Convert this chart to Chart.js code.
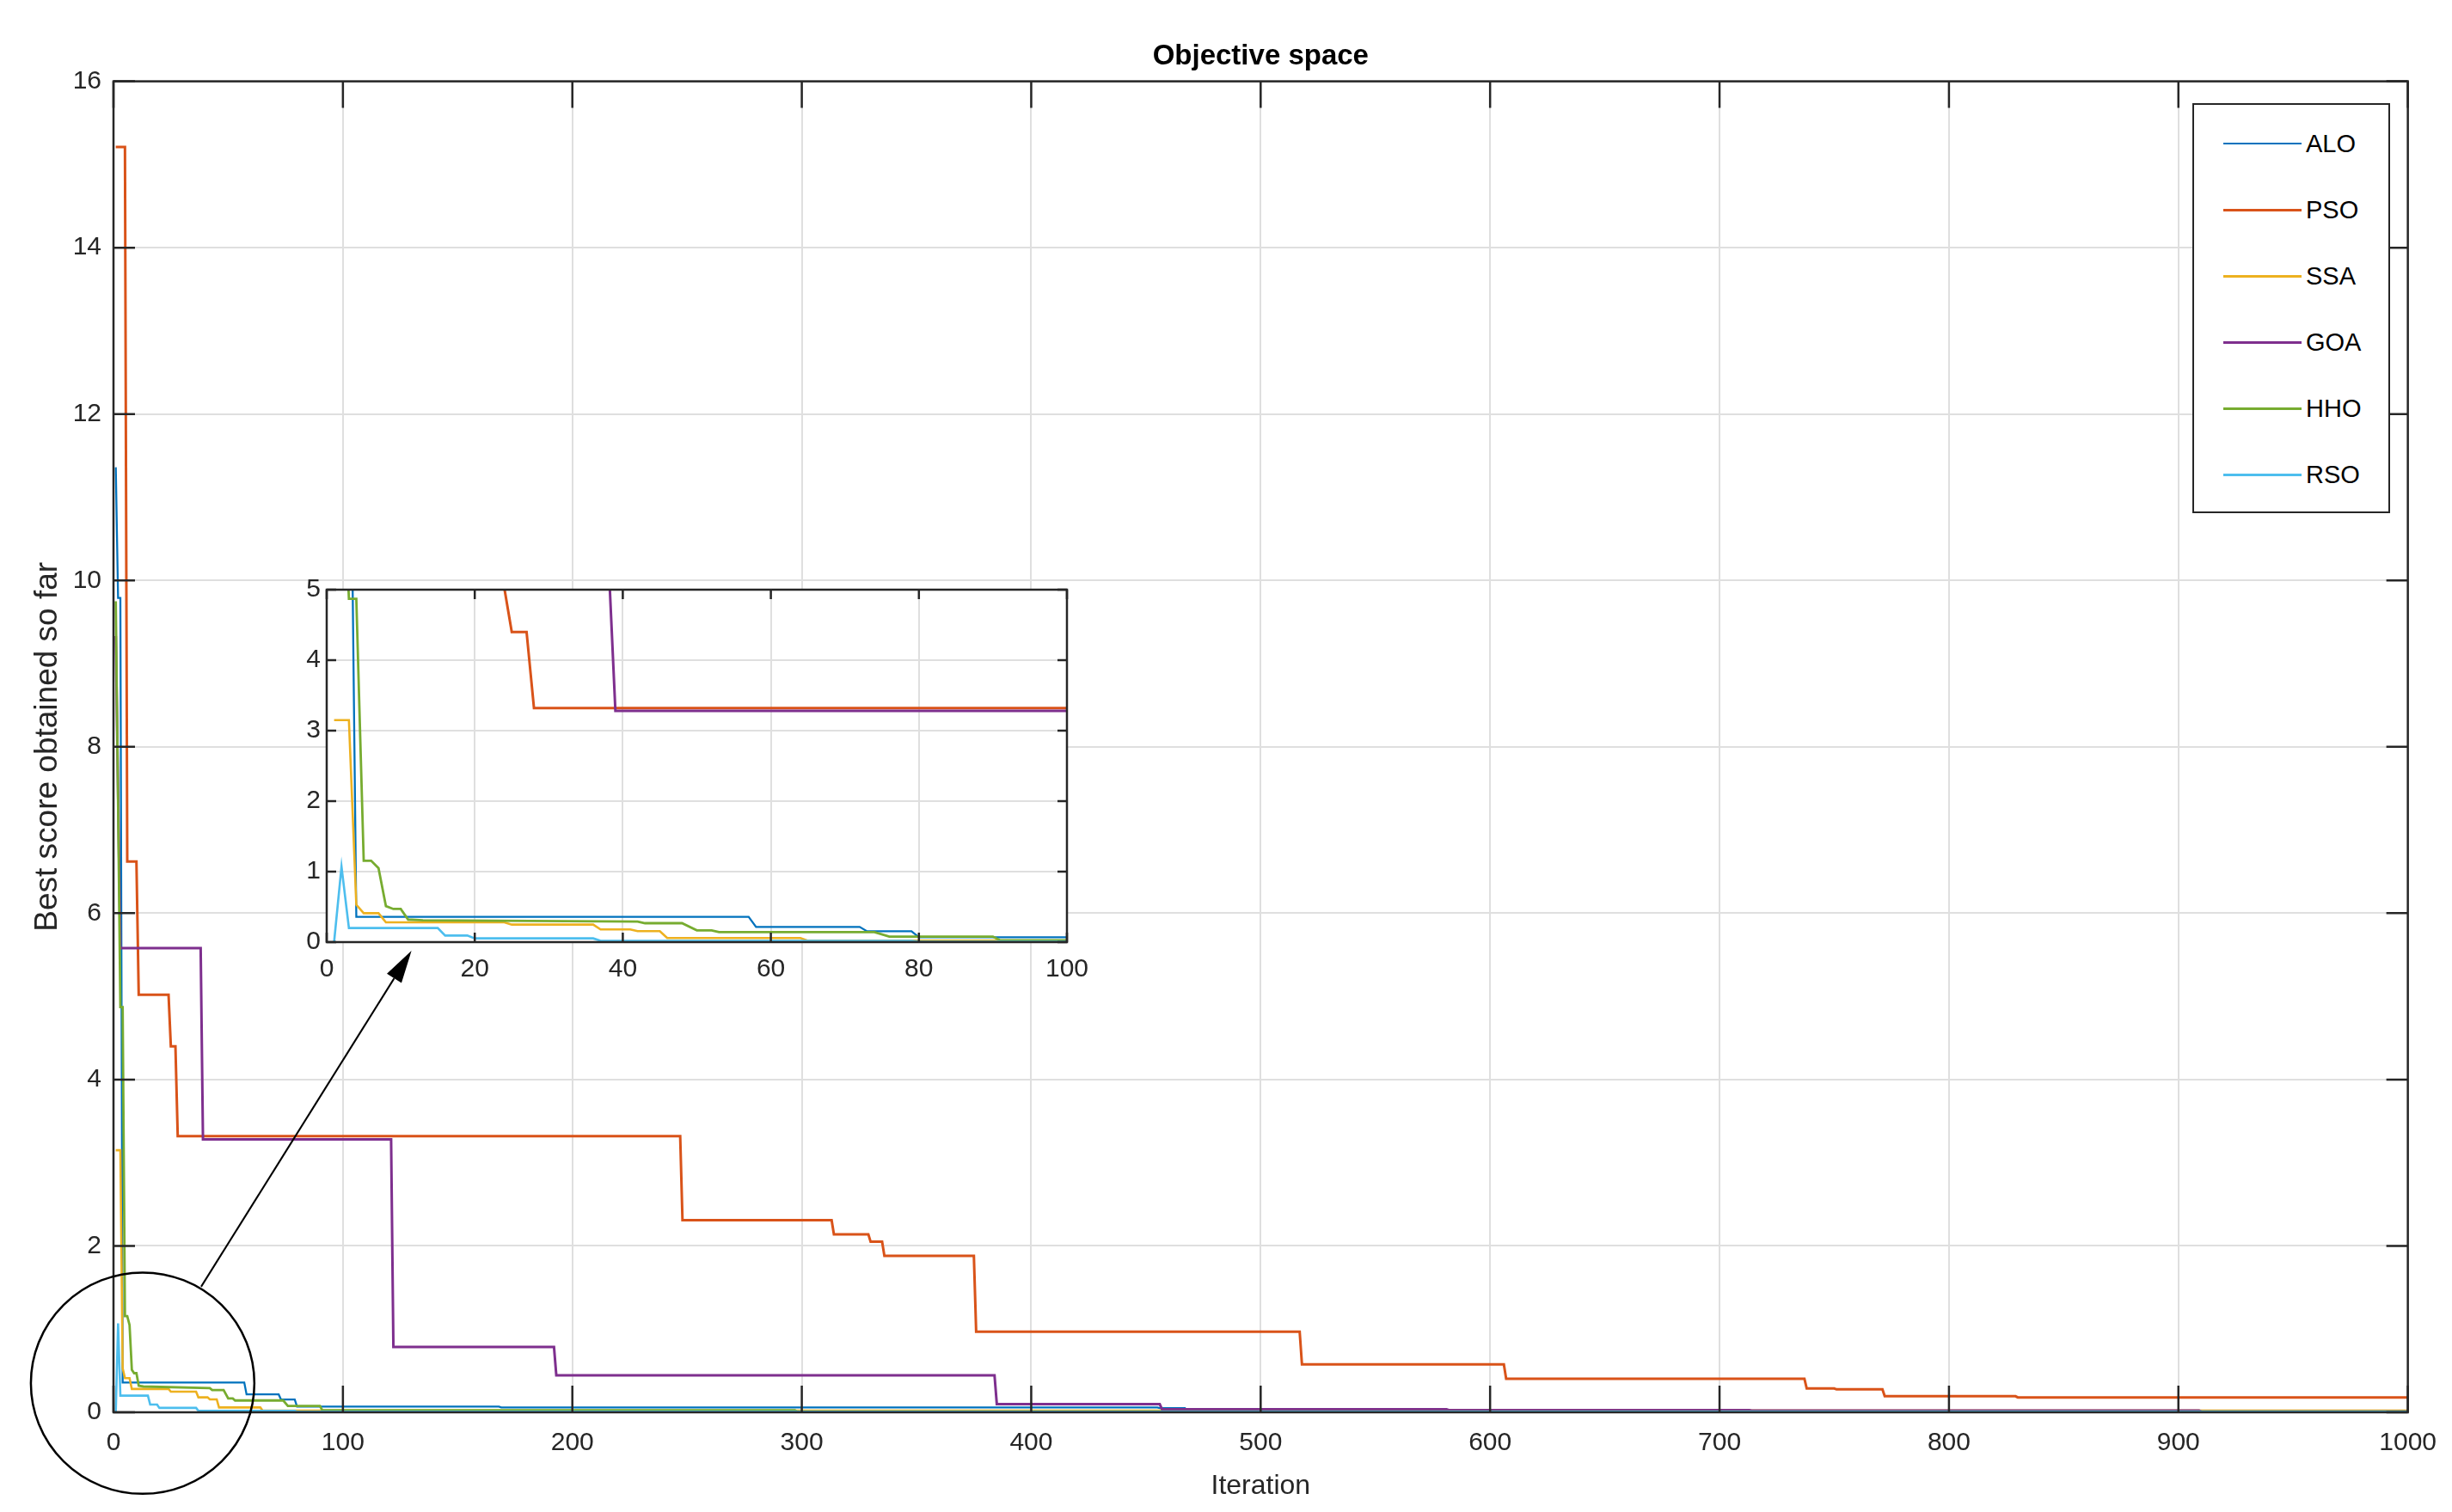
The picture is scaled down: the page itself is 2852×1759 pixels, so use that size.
<!DOCTYPE html>
<html>
<head>
<meta charset="utf-8">
<title>Objective space</title>
<script src="https://cdn.jsdelivr.net/npm/chart.js@4.4.1/dist/chart.umd.min.js"></script>
<style>
  html, body { margin: 0; padding: 0; background: #fff; }
  #wrap { position: relative; width: 2852px; height: 1759px; overflow: hidden; }
  #wrap canvas { position: absolute; left: 0; top: 0; }
  #legend {
    position: absolute; left: 2550px; top: 120px; width: 230px; height: 477px;
    box-sizing: border-box; border: 2px solid #262626; background: #fff;
    font-family: 'Liberation Sans', Arial, Helvetica, sans-serif;
  }
  #legend .item { position: absolute; left: 0; width: 100%; height: 40px; }
  #legend .swatch { position: absolute; left: 34px; top: 19px; width: 91px; }
  #legend .name { position: absolute; left: 130px; top: 0; line-height: 40px; font-size: 29px; color: #000; }
</style>
</head>
<body>
<div id="wrap">
  <canvas id="mainChart" width="2852" height="1759"></canvas>
  <canvas id="insetChart" width="2852" height="1759"></canvas>
  <div id="legend"></div>
</div>
<script>
// best score per iteration as [iteration, score] breakpoints
const algorithms = ['ALO', 'PSO', 'SSA', 'GOA', 'HHO', 'RSO'];

const aloBest = [[1, 11.36], [2, 9.79], [3, 9.79], [4, 0.358], [57, 0.358], [58, 0.215], [72, 0.215],
  [73, 0.154], [79, 0.154], [80, 0.068], [168, 0.068], [169, 0.058], [455, 0.058], [456, 0.05],
  [467, 0.05], [468, 0.006], [1000, 0.006]];

const psoBest = [[1, 15.21], [5, 15.21], [6, 6.62], [10, 6.62], [11, 5.02], [24, 5.02], [25, 4.4],
  [27, 4.4], [28, 3.32], [247, 3.32], [248, 2.31], [313, 2.31], [314, 2.14], [329, 2.14], [330, 2.05],
  [335, 2.05], [336, 1.88], [375, 1.88], [376, 0.97], [517, 0.97], [518, 0.575], [606, 0.575],
  [607, 0.403], [737, 0.403], [738, 0.286], [750, 0.286], [751, 0.276], [771, 0.276], [772, 0.193],
  [829, 0.193], [830, 0.179], [1000, 0.179]];

const ssaBest = [[1, 3.15], [3, 3.15], [4, 0.53], [5, 0.41], [7, 0.41], [8, 0.28], [24, 0.28],
  [25, 0.248], [36, 0.248], [37, 0.18], [41, 0.18], [42, 0.155], [45, 0.155], [46, 0.058],
  [64, 0.058], [65, 0.02], [1000, 0.02]];

const goaBest = [[1, 9.33], [3, 5.58], [38, 5.58], [39, 3.28], [121, 3.28], [122, 0.785], [192, 0.785],
  [193, 0.445], [384, 0.445], [385, 0.099], [456, 0.099], [457, 0.037], [581, 0.037], [582, 0.027],
  [713, 0.027], [714, 0.021], [909, 0.021], [910, 0.008], [1000, 0.008]];

const hhoBest = [[1, 9.75], [3, 4.87], [4, 4.87], [5, 1.155], [6, 1.155], [7, 1.05], [8, 0.51],
  [9, 0.47], [10, 0.47], [11, 0.32], [13, 0.31], [42, 0.29], [43, 0.268], [48, 0.268], [50, 0.167],
  [52, 0.167], [53, 0.142], [74, 0.142], [76, 0.077], [90, 0.077], [91, 0.025], [297, 0.025],
  [298, 0.008], [1000, 0.008]];

const rsoBest = [[1, 0], [2, 1.07], [3, 0.2], [15, 0.2], [16, 0.093], [19, 0.093], [20, 0.053],
  [36, 0.053], [37, 0.018], [79, 0.018], [80, 0.006], [1000, 0.006]];

const curves = [aloBest, psoBest, ssaBest, goaBest, hhoBest, rsoBest];
const colors = ['#0072BD', '#D95319', '#EDB120', '#7E2F8E', '#77AC30', '#4DBEEE'];
const lineWidths = [2.3, 3, 2.6, 3, 2.8, 2.6];

// zoom marker in data units of the main axes
const zoomCircle = { cx: 12.7, cy: 0.35, rx: 48.7, ry: 1.33 };
const zoomArrow = { from: [38.2, 1.51], to: [129.9, 5.55] };

const FONT = "'Liberation Sans', Arial, Helvetica, sans-serif";
const AXIS = '#262626';
const GRID = '#dfdfdf';

function makeDatasets() {
  return algorithms.map((name, i) => ({
    label: name,
    data: curves[i].map(([x, y]) => ({ x: x, y: y })),
    borderColor: colors[i],
    backgroundColor: colors[i],
    borderWidth: lineWidths[i],
    pointRadius: 0,
    fill: false,
    tension: 0,
    order: algorithms.length - i // later series on top, like MATLAB
  }));
}

// box round the axes with inward ticks on all four sides
const boxPlugin = {
  id: 'matlabBox',
  beforeDraw(chart, args, opts) {
    if (!opts.fillArea) return;
    const a = chart.chartArea;
    chart.ctx.save();
    chart.ctx.fillStyle = '#fff';
    chart.ctx.fillRect(a.left, a.top, a.right - a.left, a.bottom - a.top);
    chart.ctx.restore();
  },
  afterDraw(chart, args, opts) {
    const { ctx, chartArea: a } = chart;
    const x = chart.scales.x, y = chart.scales.y;
    ctx.save();
    ctx.strokeStyle = AXIS;
    ctx.lineWidth = opts.width;
    ctx.beginPath();
    x.ticks.forEach(t => {
      const px = x.getPixelForValue(t.value);
      ctx.moveTo(px, a.bottom); ctx.lineTo(px, a.bottom - opts.xTick);
      ctx.moveTo(px, a.top); ctx.lineTo(px, a.top + opts.xTick);
    });
    y.ticks.forEach(t => {
      const py = y.getPixelForValue(t.value);
      ctx.moveTo(a.left, py); ctx.lineTo(a.left + opts.yTick, py);
      ctx.moveTo(a.right, py); ctx.lineTo(a.right - opts.yTick, py);
    });
    ctx.stroke();
    ctx.strokeRect(a.left, a.top, a.right - a.left, a.bottom - a.top);
    ctx.restore();
  }
};

// circle round the start and arrow pointing to the inset
const zoomMarkPlugin = {
  id: 'zoomMark',
  afterDraw(chart) {
    const { ctx } = chart;
    const x = chart.scales.x, y = chart.scales.y;
    const cx = x.getPixelForValue(zoomCircle.cx);
    const cy = y.getPixelForValue(zoomCircle.cy);
    const rx = x.getPixelForValue(zoomCircle.cx + zoomCircle.rx) - cx;
    const ry = cy - y.getPixelForValue(zoomCircle.cy + zoomCircle.ry);
    ctx.save();
    ctx.strokeStyle = '#000';
    ctx.lineWidth = 2.5;
    ctx.beginPath();
    ctx.ellipse(cx, cy, rx, ry, 0, 0, Math.PI * 2);
    ctx.stroke();

    const x0 = x.getPixelForValue(zoomArrow.from[0]), y0 = y.getPixelForValue(zoomArrow.from[1]);
    const x1 = x.getPixelForValue(zoomArrow.to[0]), y1 = y.getPixelForValue(zoomArrow.to[1]);
    const ang = Math.atan2(y1 - y0, x1 - x0);
    const headLen = 38, headHalf = 10;
    const bx = x1 - headLen * Math.cos(ang), by = y1 - headLen * Math.sin(ang);
    ctx.lineWidth = 2;
    ctx.beginPath();
    ctx.moveTo(x0, y0);
    ctx.lineTo(bx, by);
    ctx.stroke();
    ctx.fillStyle = '#000';
    ctx.beginPath();
    ctx.moveTo(x1, y1);
    ctx.lineTo(bx + headHalf * Math.sin(ang), by - headHalf * Math.cos(ang));
    ctx.lineTo(bx - headHalf * Math.sin(ang), by + headHalf * Math.cos(ang));
    ctx.closePath();
    ctx.fill();
    ctx.restore();
  }
};

const tickFont = { family: FONT, size: 30 };
const plainNumber = v => String(v);

new Chart(document.getElementById('mainChart').getContext('2d'), {
  type: 'line',
  data: { datasets: makeDatasets() },
  plugins: [boxPlugin, zoomMarkPlugin],
  options: {
    responsive: false,
    animation: false,
    devicePixelRatio: 1,
    layout: { padding: { left: 12, right: 48, top: 46, bottom: 0 } },
    plugins: {
      legend: { display: false },
      tooltip: { enabled: false },
      title: {
        display: true,
        fullSize: false,
        text: 'Objective space',
        color: '#000',
        font: { family: FONT, size: 33, weight: 'bold' },
        padding: { top: 0, bottom: 9 }
      },
      matlabBox: { width: 2.5, xTick: 31, yTick: 25, fillArea: false }
    },
    scales: {
      x: {
        type: 'linear', min: 0, max: 1000,
        ticks: { stepSize: 100, font: tickFont, color: AXIS, padding: 18, maxRotation: 0, callback: plainNumber },
        grid: { color: GRID, lineWidth: 2, drawTicks: false },
        border: { display: false },
        title: { display: true, text: 'Iteration', color: AXIS, font: { family: FONT, size: 32 }, padding: { top: 0, bottom: 11 } },
        afterFit: s => { s.height = 116; }
      },
      y: {
        type: 'linear', min: 0, max: 16,
        ticks: { stepSize: 2, font: tickFont, color: AXIS, padding: 14, callback: plainNumber },
        grid: { color: GRID, lineWidth: 2, drawTicks: false },
        border: { display: false },
        title: { display: true, text: 'Best score obtained so far', color: AXIS, font: { family: FONT, size: 37 }, padding: { top: 22, bottom: 0 } },
        afterFit: s => { s.width = 120; }
      }
    }
  }
});

// inset: first 100 iterations, scores 0..5
new Chart(document.getElementById('insetChart').getContext('2d'), {
  type: 'line',
  data: { datasets: makeDatasets() },
  plugins: [boxPlugin],
  options: {
    responsive: false,
    animation: false,
    devicePixelRatio: 1,
    layout: { padding: { left: 340, right: 1611, top: 686, bottom: 603 } },
    plugins: {
      legend: { display: false },
      tooltip: { enabled: false },
      title: { display: false },
      matlabBox: { width: 2.5, xTick: 11, yTick: 11, fillArea: true }
    },
    scales: {
      x: {
        type: 'linear', min: 0, max: 100,
        ticks: { stepSize: 20, font: tickFont, color: AXIS, padding: 14, maxRotation: 0, callback: plainNumber },
        grid: { color: GRID, lineWidth: 2, drawTicks: false },
        border: { display: false },
        afterFit: s => { s.height = 60; }
      },
      y: {
        type: 'linear', min: 0, max: 5,
        ticks: { stepSize: 1, font: tickFont, color: AXIS, padding: 7, callback: plainNumber },
        grid: { color: GRID, lineWidth: 2, drawTicks: false },
        border: { display: false },
        afterFit: s => { s.width = 40; }
      }
    }
  }
});

// legend box, top right like the figure
const legendBox = document.getElementById('legend');
algorithms.forEach((name, i) => {
  const item = document.createElement('div');
  item.className = 'item';
  item.style.top = (45 + 77 * i - 20) + 'px';
  const swatch = document.createElement('span');
  swatch.className = 'swatch';
  swatch.style.height = lineWidths[i] + 'px';
  swatch.style.background = colors[i];
  const label = document.createElement('span');
  label.className = 'name';
  label.textContent = name;
  item.appendChild(swatch);
  item.appendChild(label);
  legendBox.appendChild(item);
});
</script>
</body>
</html>
